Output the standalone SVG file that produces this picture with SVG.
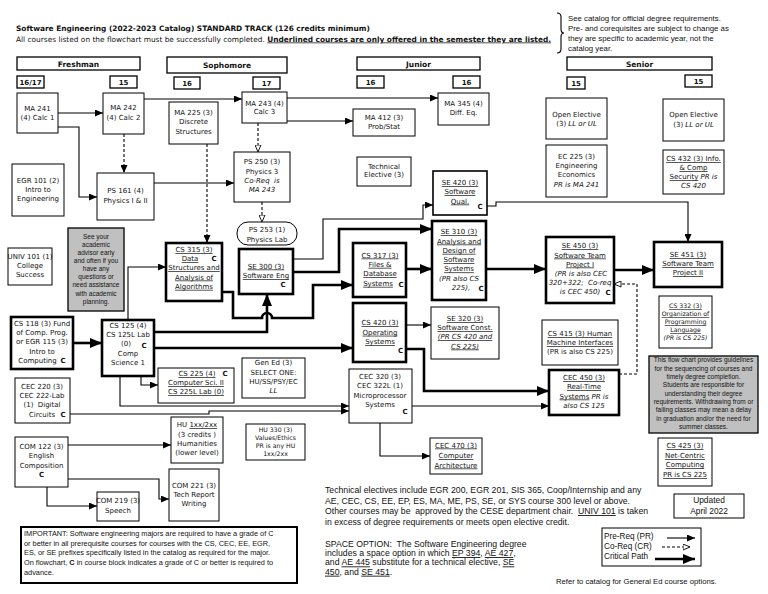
<svg xmlns="http://www.w3.org/2000/svg" width="768" height="594" viewBox="0 0 768 594">
<style>
text{font-family:"DejaVu Sans",sans-serif;fill:#111;white-space:pre}
.t{font-size:7px;text-anchor:middle}
.sm{font-size:6.2px;text-anchor:middle}
.u{text-decoration:underline}
.i{font-style:italic}
.bd{font-weight:bold}
.ar{font-family:"Liberation Sans",Arial,sans-serif}
.g6{font-family:"Liberation Sans",Arial,sans-serif;font-size:6.5px;text-anchor:middle}
.bx{fill:#fff;stroke:#000;stroke-width:1}
.bm{fill:#fff;stroke:#000;stroke-width:1.6}
.bk{fill:#fff;stroke:#000;stroke-width:2.6}
.gr{fill:#c0c0c0;stroke:#000;stroke-width:1.3}
.hd{fill:#fff;stroke:#000;stroke-width:1.3}
.ln{fill:none;stroke:#000;stroke-width:1.1}
.lk{fill:none;stroke:#000;stroke-width:2.6}
.ld{fill:none;stroke:#000;stroke-width:1.1;stroke-dasharray:3 2}
.hx{font-size:7.5px;font-weight:bold;text-anchor:middle}
.sx{font-size:7px;font-weight:bold;text-anchor:middle}
.bt{font-family:"Liberation Sans",Arial,sans-serif;font-size:8.7px}
</style>
<defs>
<marker id="a" markerUnits="userSpaceOnUse" markerWidth="8" markerHeight="7" refX="8" refY="3.5" orient="auto"><path d="M0,0L8,3.5L0,7z" fill="#000"/></marker>
<marker id="A" markerUnits="userSpaceOnUse" markerWidth="12" markerHeight="10" refX="12" refY="5" orient="auto"><path d="M0,0L12,5L0,10z" fill="#000"/></marker>
<marker id="o" markerUnits="userSpaceOnUse" markerWidth="8" markerHeight="7" refX="7.5" refY="3.5" orient="auto"><path d="M0.5,0.5L7.5,3.5L0.5,6.5z" fill="#fff" stroke="#000" stroke-width="0.9"/></marker>
</defs>
<rect x="0" y="0" width="768" height="594" fill="#fff"/>

<g id="title">
<text x="16" y="31" class="bd" font-size="7.4">Software Engineering (2022-2023 Catalog) STANDARD TRACK (126 credits minimum)</text>
<text x="16" y="41.5" font-size="7.4">All courses listed on the flowchart must be successfully completed. <tspan class="bd u">Underlined courses are only offered in the semester they are listed.</tspan></text>
</g>
<g id="note-catalog">
<path class="ln" d="M557,13 Q561,13 561,17 V29 Q561,33 564,33 Q561,33 561,37 V49 Q561,53 557,53"/>
<text class="ar" x="568" y="21" font-size="7.8">See catalog for official degree requirements.</text>
<text class="ar" x="568" y="31" font-size="7.8">Pre- and corequisites are subject to change as</text>
<text class="ar" x="568" y="41" font-size="7.8">they are specific to academic year, not the</text>
<text class="ar" x="568" y="51" font-size="7.8">catalog year.</text>
</g>

<g id="year-headers">
<rect class="hd" x="17" y="57" width="123" height="13"/><text class="hx" x="78.5" y="66.5">Freshman</text>
<rect class="hd" x="167" y="57" width="120" height="16"/><text class="hx" x="227" y="68">Sophomore</text>
<rect class="hd" x="357" y="57" width="123" height="13"/><text class="hx" x="418.5" y="66.5">Junior</text>
<rect class="hd" x="567" y="57" width="145" height="13"/><text class="hx" x="639.5" y="66.5">Senior</text>
</g>
<g id="semester-credits">
<rect class="hd" x="17" y="76" width="27" height="12"/><text class="sx" x="30.5" y="85">16/17</text>
<rect class="hd" x="110" y="76" width="27" height="12"/><text class="sx" x="123.5" y="85">15</text>
<rect class="hd" x="174" y="77" width="26" height="12"/><text class="sx" x="187" y="86">16</text>
<rect class="hd" x="253" y="77" width="27" height="12"/><text class="sx" x="266.5" y="86">17</text>
<rect class="hd" x="357" y="76" width="27" height="12"/><text class="sx" x="370.5" y="85">16</text>
<rect class="hd" x="453" y="76" width="27" height="12"/><text class="sx" x="466.5" y="85">16</text>
<rect class="hd" x="567" y="77" width="18" height="12"/><text class="sx" x="576" y="86">15</text>
<rect class="hd" x="685" y="75" width="27" height="12"/><text class="sx" x="698.5" y="84">15</text>
</g>

<g id="connectors">
<path class="ln" marker-end="url(#a)" d="M58,113H103"/>
<path class="ln" marker-end="url(#a)" d="M58,127H79V197H97"/>
<path class="ln" marker-end="url(#a)" d="M144,99H242"/>
<path class="ln" marker-end="url(#a)" d="M287,98H438"/>
<path class="ln" marker-end="url(#a)" d="M287,121H353"/>
<path class="ln" marker-end="url(#a)" d="M154,183H234"/>
<path class="ln" marker-end="url(#a)" d="M128,320V267H166"/>
<path class="ln" marker-end="url(#a)" d="M293,259H323V219H423V205H433"/>
<path class="ln" marker-end="url(#a)" d="M487,206H496V202H688V242"/>
<path class="ln" marker-end="url(#a)" d="M406,325H431"/>
<path class="ln" marker-end="url(#a)" d="M412,406H549"/>
<path class="ln" marker-end="url(#a)" d="M380,423V456H430"/>
<path class="ln" marker-end="url(#a)" d="M141,376V385H158"/>
<path class="ln" marker-end="url(#a)" d="M120,376V406H349"/>
<path class="ln" marker-end="url(#a)" d="M70,414H209V411H349"/>
<path class="ln" marker-end="url(#a)" d="M68,445H171"/>
<path class="ln" marker-end="url(#a)" d="M68,479H159V499H169"/>
<path class="ln" marker-end="url(#a)" d="M47,487V506H97"/>
<path class="lk" marker-end="url(#A)" d="M73,343H102"/>
<path class="lk" marker-end="url(#A)" d="M154,332H267V294"/>
<path class="lk" marker-end="url(#A)" d="M222,292H233V318H262A5,5 0 0 1 272,318H313V285H353"/>
<path class="lk" marker-end="url(#A)" d="M293,272H339V229H432"/>
<path class="lk" marker-end="url(#A)" d="M406,269H432"/>
<path class="lk" marker-end="url(#A)" d="M486,269H546"/>
<path class="lk" marker-end="url(#A)" d="M614,270H654"/>
<path class="lk" marker-end="url(#A)" d="M154,348H353"/>
<path class="lk" marker-end="url(#A)" d="M406,349H424V391H549"/>
<path class="ld" marker-end="url(#o)" d="M258,123V152"/>
<path class="ld" marker-end="url(#o)" d="M262,202V222"/>
<path class="ld" marker-end="url(#o)" d="M619,374H637V284H614"/>
<path class="ld" marker-end="url(#a)" d="M124,134V173"/>
<path class="ld" marker-end="url(#a)" d="M207,144V243"/>
</g>

<g id="ma241"><rect class="bx" x="17" y="93" width="41" height="40"/><text class="t" x="37.5" y="110.5">MA 241</text><text class="t" x="37.5" y="119.8">(4) Calc 1</text></g>
<g id="ma242"><rect class="bx" x="103" y="93" width="41" height="41"/><text class="t" x="123.5" y="110">MA 242</text><text class="t" x="123.5" y="119.5">(4) Calc 2</text></g>
<g id="ma225"><rect class="bx" x="169" y="102" width="49" height="42"/><text class="t" x="193.5" y="115.2">MA 225 (3)</text><text class="t" x="193.5" y="124.2">Discrete</text><text class="t" x="193.5" y="133.5">Structures</text></g>
<g id="ma243"><rect class="bx" x="242" y="92" width="45" height="31"/><text class="t" x="264.5" y="106">MA 243 (4)</text><text class="t" x="264.5" y="114.3">Calc 3</text></g>
<g id="ma412"><rect class="bx" x="353" y="109" width="62" height="27"/><text class="t" x="384" y="120">MA 412 (3)</text><text class="t" x="384" y="128.5">Prob/Stat</text></g>
<g id="ma345"><rect class="bx" x="438" y="93" width="51" height="32"/><text class="t" x="463.5" y="106">MA 345 (4)</text><text class="t" x="463.5" y="115.3">Diff. Eq.</text></g>
<g id="egr101"><rect class="bx" x="12" y="164" width="52" height="52"/><text class="t" x="38" y="182.5">EGR 101 (2)</text><text class="t" x="38" y="191.5">Intro to</text><text class="t" x="38" y="201">Engineering</text></g>
<g id="ps161"><rect class="bx" x="97" y="173" width="57" height="47"/><text class="t" x="125.5" y="193.2">PS 161 (4)</text><text class="t" x="125.5" y="202.5">Physics I &amp; II</text></g>
<g id="ps250"><rect class="bx" x="234" y="152" width="56" height="50"/><text class="t" x="262" y="164.2">PS 250 (3)</text><text class="t" x="262" y="173.5">Physics 3</text><text class="t i" x="262" y="182.8">Co-Req  is</text><text class="t i" x="262" y="191.8">MA 243</text></g>
<g id="tech-elective"><rect class="bx" x="357" y="157" width="54" height="29"/><text class="t" x="384" y="168.5">Technical</text><text class="t" x="384" y="177.2">Elective (3)</text></g>
<g id="ps253"><rect class="bx" x="237" y="222" width="60" height="23" rx="11"/><text class="t" x="267" y="232">PS 253 (1)</text><text class="t" x="267" y="241.5">Physics Lab</text></g>
<g id="advisor-note"><rect class="gr" x="68" y="228" width="56" height="83"/>
<text class="g6" x="96" y="238.7">See your</text><text class="g6" x="96" y="246.8">academic</text><text class="g6" x="96" y="254.9">advisor early</text><text class="g6" x="96" y="263">and often if you</text><text class="g6" x="96" y="271.2">have any</text><text class="g6" x="96" y="279.3">questions or</text><text class="g6" x="96" y="287.4">need assistance</text><text class="g6" x="96" y="295.5">with academic</text><text class="g6" x="96" y="303.7">planning.</text></g>
<g id="univ101"><rect class="bx" x="8" y="248" width="44" height="37"/><text class="t" x="30" y="259">UNIV 101 (1)</text><text class="t" x="30" y="268">College</text><text class="t" x="30" y="277.3">Success</text></g>
<g id="cs315"><rect class="bk" x="166" y="243" width="56" height="58"/><text class="t u" x="194" y="252">CS 315 (3)</text><text class="t u" x="190" y="261.3">Data</text><text class="t bd" x="214" y="261.3">C</text><text class="t u" x="194" y="270.3">Structures and</text><text class="t u" x="194" y="279.5">Analysis of</text><text class="t u" x="194" y="288.8">Algorithms</text></g>
<g id="se300"><rect class="bk" x="239" y="249" width="54" height="45"/><text class="t u" x="266" y="268.5">SE 300 (3)</text><text class="t u" x="266" y="278">Software Eng</text><text class="t bd" x="283" y="286.5">C</text></g>
<g id="cs317"><rect class="bk" x="353" y="243" width="53" height="54"/><text class="t u" x="380" y="257.5">CS 317 (3)</text><text class="t u" x="380" y="266.8">Files &amp;</text><text class="t u" x="380" y="276.2">Database</text><text class="t u" x="378" y="285.8">Systems</text><text class="t bd" x="401" y="287">C</text></g>
<g id="se310"><rect class="bk" x="432" y="221" width="54" height="79"/><text class="t u" x="459" y="234.2">SE 310 (3)</text><text class="t u" x="459" y="243.5">Analysis and</text><text class="t u" x="459" y="252.8">Design of</text><text class="t u" x="459" y="262">Software</text><text class="t u" x="459" y="271.4">Systems</text><text class="t i" x="459" y="280.7">(PR also CS</text><text class="t i" x="461" y="290">225),</text><text class="t bd" x="481" y="291">C</text></g>
<g id="se420"><rect class="bm" x="433" y="171" width="54" height="44"/><text class="t u" x="460" y="185">SE 420 (3)</text><text class="t u" x="460" y="194.2">Software</text><text class="t u" x="460" y="203.5">Qual.</text><text class="t bd" x="480" y="209">C</text></g>
<g id="cs420"><rect class="bk" x="353" y="303" width="53" height="59"/><text class="t u" x="380" y="325">CS 420 (3)</text><text class="t u" x="380" y="334.7">Operating</text><text class="t u" x="380" y="344">Systems</text><text class="t bd" x="400.5" y="353">C</text></g>
<g id="se320"><rect class="bx" x="431" y="307" width="68" height="52"/><text class="t u" x="465" y="321">SE 320 (3)</text><text class="t u" x="465" y="330">Software Const.</text><text class="t u i" x="465" y="339">(PR CS 420 and</text><text class="t u i" x="465" y="348.5">CS 225)</text></g>
<g id="open-elective-1"><rect class="bx" x="546" y="98" width="61" height="41"/><text class="t" x="576.5" y="116.5">Open Elective</text><text class="t" x="576.5" y="126">(3) <tspan class="i">LL or UL</tspan></text></g>
<g id="ec225"><rect class="bx" x="546" y="145" width="61" height="52"/><text class="t" x="576.5" y="158.5">EC 225 (3)</text><text class="t" x="576.5" y="168">Engineering</text><text class="t" x="576.5" y="177">Economics</text><text class="t i" x="576.5" y="186.5">PR is MA 241</text></g>
<g id="open-elective-2"><rect class="bx" x="663" y="99" width="61" height="42"/><text class="t" x="693.5" y="117">Open Elective</text><text class="t" x="693.5" y="126.5">(3) <tspan class="i">LL or UL</tspan></text></g>
<g id="cs432"><rect class="bx" x="663" y="150" width="61" height="44"/><text class="t u" x="693.5" y="161">CS 432 (3) Info.</text><text class="t u" x="693.5" y="170">&amp; Comp</text><text class="t" x="693.5" y="179"><tspan class="u">Security</tspan><tspan class="i"> PR is</tspan></text><text class="t i" x="693.5" y="188.3">CS 420</text></g>
<g id="se450"><rect class="bk" x="546" y="237" width="68" height="66"/><text class="t u" x="580" y="248">SE 450 (3)</text><text class="t u" x="580" y="257.5">Software Team</text><text class="t u" x="580" y="266.5">Project I</text><text class="t i" x="581" y="275.8">(PR is also CEC</text><text class="t i" x="580" y="284.8">320+322;  Co-req</text><text class="t i" x="580" y="294.2">is CEC 450)</text><text class="t bd" x="608" y="295">C</text></g>
<g id="se451"><rect class="bk" x="654" y="242" width="68" height="45"/><text class="t u" x="688" y="257">SE 451 (3)</text><text class="t u" x="688" y="266">Software Team</text><text class="t u" x="688" y="275">Project II</text></g>
<g id="cs332"><rect class="bx" x="659" y="296" width="53" height="52"/><text class="sm u" x="685.5" y="308.2">CS 332 (3)</text><text class="sm u" x="685.5" y="316.2">Organization of</text><text class="sm u" x="685.5" y="324.2">Programming</text><text class="sm u" x="685.5" y="332.2">Language</text><text class="sm i" x="685.5" y="340">(PR is CS 225)</text></g>
<g id="cs415"><rect class="bx" x="542" y="320" width="76" height="45"/><text class="t u" x="580" y="336">CS 415 (3) Human</text><text class="t u" x="580" y="345.3">Machine Interfaces</text><text class="t" x="580" y="354.3">(PR is also CS 225)</text></g>
<g id="cec450"><rect class="bk" x="549" y="370" width="70" height="45"/><text class="t u" x="584" y="380">CEC 450 (3)</text><text class="t u" x="584" y="389.3">Real-Time</text><text class="t" x="584" y="398.5"><tspan class="u">Systems</tspan><tspan class="i"> PR is</tspan></text><text class="t i" x="584" y="407.5">also CS 125</text></g>
<g id="guideline-note"><rect class="gr" x="649" y="356" width="109" height="77"/>
<text class="g6" x="703.5" y="362.3">This flow chart provides guidelines</text><text class="g6" x="703.5" y="370.6">for the sequencing of courses and</text><text class="g6" x="703.5" y="379">timely degree completion.</text><text class="g6" x="703.5" y="387.3">Students are responsible for</text><text class="g6" x="703.5" y="395.6">understanding their degree</text><text class="g6" x="703.5" y="404">requirements. Withdrawing from or</text><text class="g6" x="703.5" y="412.3">failing classes may mean a delay</text><text class="g6" x="703.5" y="420.6">in graduation and/or the need for</text><text class="g6" x="703.5" y="429">summer classes.</text></g>
<g id="cs425"><rect class="bx" x="658" y="438" width="54" height="48"/><text class="t u" x="685" y="448">CS 425 (3)</text><text class="t u" x="685" y="458">Net-Centric</text><text class="t u" x="685" y="467.3">Computing</text><text class="t u" x="685" y="477">PR is CS 225</text></g>
<g id="cec470"><rect class="bx" x="430" y="438" width="52" height="36"/><text class="t u" x="456" y="447.5">CEC 470 (3)</text><text class="t u" x="456" y="458">Computer</text><text class="t u" x="456" y="467.5">Architecture</text></g>
<g id="cs118"><rect class="bk" x="11" y="317" width="62" height="52"/><text class="t" x="42" y="326">CS 118 (3) Fund</text><text class="t" x="42" y="335.2">of Comp. Prog.</text><text class="t" x="42" y="344.2">or EGR 115 (3)</text><text class="t" x="42" y="353.5">Intro to</text><text class="t" x="37.5" y="363">Computing</text><text class="t bd" x="63" y="363">C</text></g>
<g id="cs125"><rect class="bk" x="102" y="320" width="52" height="56"/><text class="t" x="128" y="327.7">CS 125 (4)</text><text class="t" x="128" y="337.2">CS 125L Lab</text><text class="t" x="126" y="346">(0)</text><text class="t bd" x="144" y="347.5">C</text><text class="t" x="128" y="355.5">Comp</text><text class="t" x="128" y="364.7">Science 1</text></g>
<g id="cs225"><rect class="bx" x="158" y="368" width="76" height="35"/><text class="t u" x="197" y="376">CS 225 (4)</text><text class="t bd" x="225" y="376">C</text><text class="t u" x="196" y="385">Computer Sci. II</text><text class="t u" x="196" y="394">CS 225L Lab (0)</text></g>
<g id="cec220"><rect class="bx" x="15" y="378" width="55" height="45"/><text class="t" x="42" y="388.5">CEC 220 (3)</text><text class="t" x="42" y="397.5">CEC 222-Lab</text><text class="t" x="42" y="407">(1)  Digital</text><text class="t" x="42" y="416.5">Circuits</text><text class="t bd" x="63" y="416.5">C</text></g>
<g id="gen-ed"><rect class="bx" x="242" y="358" width="63" height="40"/><text class="t" x="273.5" y="365">Gen Ed (3)</text><text class="t" x="273.5" y="375">SELECT ONE:</text><text class="t" x="273.5" y="384.3">HU/SS/PSY/EC</text><text class="t i" x="273.5" y="393.3">LL</text></g>
<g id="cec320"><rect class="bx" x="349" y="369" width="63" height="54"/><text class="t" x="380" y="378.5">CEC 320 (3)</text><text class="t" x="380" y="388">CEC 322L (1)</text><text class="t" x="380" y="397.5">Microprocessor</text><text class="t" x="380" y="406.5">Systems</text><text class="t bd" x="405" y="414">C</text></g>
<g id="hu1xx"><rect class="bx" x="171" y="417" width="52" height="46"/><text class="t" x="197" y="427">HU <tspan class="u">1xx/2xx</tspan></text><text class="t" x="197" y="436.5">(3 credits )</text><text class="t" x="197" y="446">Humanities</text><text class="t" x="197" y="455">(lower level)</text></g>
<g id="hu330"><rect class="bx" x="246" y="424" width="59" height="36"/><text class="sm" x="275.5" y="432.2">HU 330 (3)</text><text class="sm" x="275.5" y="440">Values/Ethics</text><text class="sm" x="275.5" y="447.8">PR is any HU</text><text class="sm" x="275.5" y="455.6">1xx/2xx</text></g>
<g id="com122"><rect class="bx" x="15" y="437" width="53" height="50"/><text class="t" x="41.5" y="449">COM 122 (3)</text><text class="t" x="41.5" y="458.2">English</text><text class="t" x="41.5" y="467.5">Composition</text><text class="t bd" x="41.5" y="476.8">C</text></g>
<g id="com221"><rect class="bx" x="169" y="469" width="50" height="52"/><text class="t" x="194" y="487.5">COM 221 (3)</text><text class="t" x="194" y="496.5">Tech Report</text><text class="t" x="194" y="506">Writing</text></g>
<g id="com219"><rect class="bx" x="97" y="492" width="42" height="29"/><text class="t" x="118" y="503">COM 219 (3)</text><text class="t" x="118" y="512.5">Speech</text></g>

<g id="important-note"><rect fill="#fff" stroke="#000" stroke-width="2" x="21" y="527" width="276" height="56"/>
<text class="ar" x="24" y="536" font-size="7.35">IMPORTANT: Software engineering majors are required to have a grade of C</text>
<text class="ar" x="24" y="545.6" font-size="7.35">or better in all prerequisite courses for courses with the CS, CEC, EE, EGR,</text>
<text class="ar" x="24" y="555.2" font-size="7.35">ES, or SE prefixes specifically listed in the catalog as required for the major.</text>
<text class="ar" x="24" y="565" font-size="7.35">On flowchart, <tspan class="bd">C</tspan> in course block indicates a grade of C or better is required to</text>
<text class="ar" x="24" y="575" font-size="7.35">advance.</text></g>

<g id="tech-electives-note">
<text class="bt" x="325" y="493">Technical electives include EGR 200, EGR 201, SIS 365, Coop/Internship and any</text>
<text class="bt" x="325" y="503.5">AE, CEC, CS, EE, EP, ES, MA, ME, PS, SE, or SYS course 300 level or above.</text>
<text class="bt" x="325" y="514">Other courses may be  approved by the CESE department chair.  <tspan class="u">UNIV 101</tspan> is taken</text>
<text class="bt" x="325" y="524.5">in excess of degree requirements or meets open elective credit.</text>
</g>
<g id="space-option-note">
<text class="bt" x="325" y="546.7">SPACE OPTION:  The Software Engineering degree</text>
<text class="bt" x="325" y="556">includes a space option in which <tspan class="u">EP 394</tspan>, <tspan class="u">AE 427</tspan>,</text>
<text class="bt" x="325" y="565.4">and <tspan class="u">AE 445</tspan> substitute for a technical elective, <tspan class="u">SE</tspan></text>
<text class="bt" x="325" y="574.7"><tspan class="u">450</tspan>, and <tspan class="u">SE 451</tspan>.</text>
</g>
<g id="updated"><rect class="bx" x="674" y="494" width="70" height="24"/><text class="ar" x="709" y="503" font-size="8.4" text-anchor="middle">Updated</text><text class="ar" x="709" y="513.5" font-size="8.4" text-anchor="middle">April 2022</text></g>
<g id="legend"><rect class="bx" x="602" y="528" width="99" height="38"/>
<text class="ar" x="604" y="539" font-size="8.2">Pre-Req (PR)</text>
<text class="ar" x="604" y="549" font-size="8.2">Co-Req (CR)</text>
<text class="ar" x="604" y="559" font-size="8.2">Critical Path</text>
<path class="ln" marker-end="url(#a)" d="M667,538H695"/>
<path class="ld" marker-end="url(#o)" d="M662,547H690"/>
<path class="lk" marker-end="url(#A)" d="M655,559H695"/>
</g>
<text class="ar" x="556" y="584" font-size="7.7">Refer to catalog for General Ed course options.</text>
</svg>
